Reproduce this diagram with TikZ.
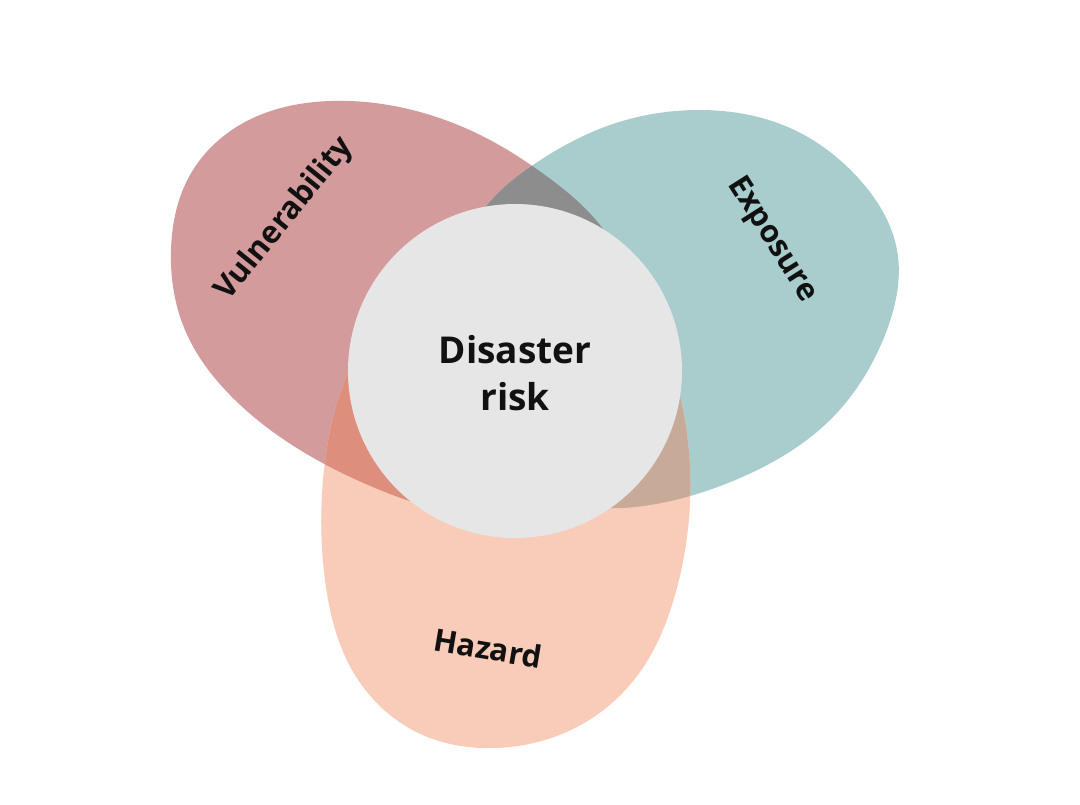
\documentclass[tikz,border=0pt]{standalone}
\usepackage{fontspec}
\usetikzlibrary{hobby}
\setmainfont{Open Sans}
\definecolor{vulc}{HTML}{D39B9B}
\definecolor{expc}{HTML}{A9CCCD}
\definecolor{hazc}{HTML}{F8CCB9}
\definecolor{vecol}{HTML}{8D8D8D}
\definecolor{vhcol}{HTML}{DE8E7C}
\definecolor{ehcol}{HTML}{C8AA98}
\definecolor{circc}{HTML}{E6E6E6}
\definecolor{txtc}{HTML}{111111}
\newcommand\vulpath{plot[closed hobby] coordinates {(171,250) (190,175) (245,122) (330,101) (420,112) (490,140) (545,175) (600,225) (635,300) (630,400) (560,490) (460,512) (380,490) (300,450) (230,395) (185,330)}}
\newcommand\exppath{plot[closed hobby] coordinates {(533,165) (610,125) (697,110) (790,128) (860,180) (897,250) (885,335) (830,420) (740,478) (650,505) (580,505) (500,460) (455,380) (455,290) (480,215)}}
\newcommand\hazpath{plot[closed hobby] coordinates {(345,380) (324,470) (325,580) (355,675) (425,736) (495,748) (575,728) (640,672) (675,595) (690,503) (682,405) (640,310) (570,262) (490,255) (410,290)}}
\tikzset{
  lbl/.style={font=\fontsize{31}{36}\selectfont\bfseries, text=txtc, inner sep=0pt},
  ctr/.style={font=\fontsize{37}{50}\selectfont\bfseries, text=txtc, inner sep=0pt}
}
\begin{document}
\begin{tikzpicture}[x=1pt,y=-1pt]
\useasboundingbox (0,0) rectangle (1080,804);
\fill[white] (0,0) rectangle (1080,804);
\fill[vulc] \vulpath;
\fill[expc] \exppath;
\fill[hazc] \hazpath;
\begin{scope}
  \clip \vulpath;
  \fill[vecol] \exppath;
  \fill[vhcol] \hazpath;
\end{scope}
\begin{scope}
  \clip \exppath;
  \fill[ehcol] \hazpath;
\end{scope}
\node[circle, fill=circc, minimum size=334pt, inner sep=0pt] (risk) at (515,371) {};
\node[ctr, anchor=base] (dis) at (515,363) {Disaster};
\node[ctr, anchor=base] (rsk) at (515,410) {risk};
\node[lbl, rotate=51] (vul) at (285,219) {Vulnerability};
\node[lbl, rotate=-57.6] (exp) at (772,240) {Exposure};
\node[lbl, rotate=-9.5] (haz) at (488,648) {Hazard};
\end{tikzpicture}
\end{document}
